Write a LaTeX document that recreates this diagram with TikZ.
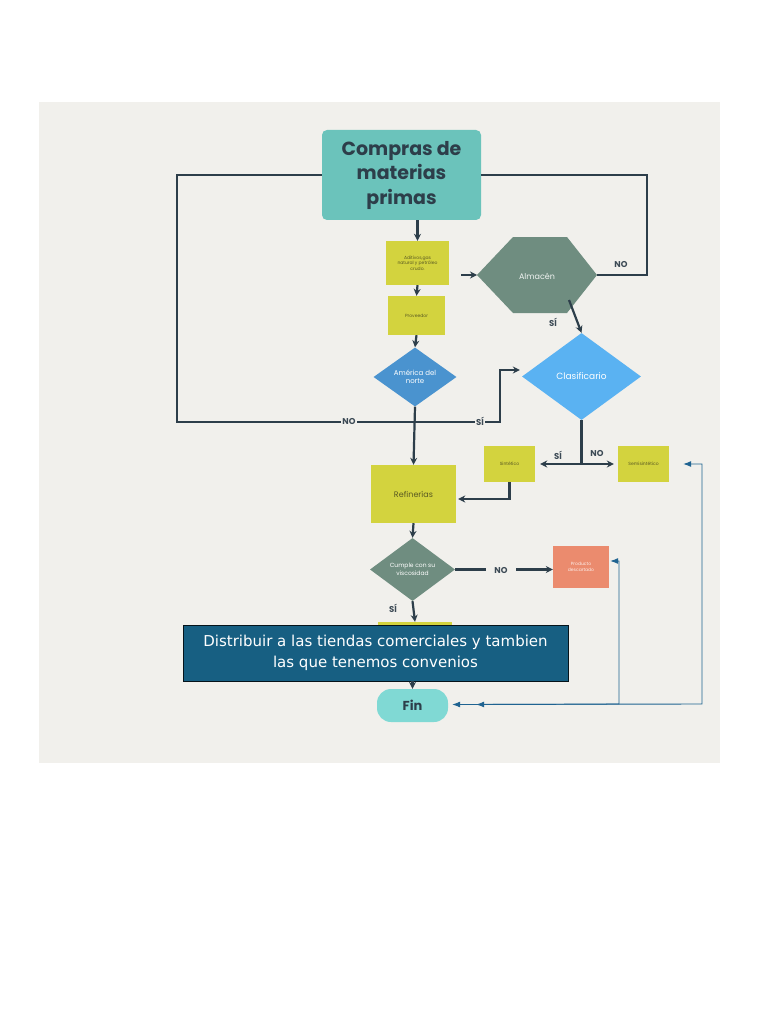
\documentclass[tikz,border=0pt]{standalone}
\usepackage{fontspec}
\setmainfont{Poppins}
\newfontfamily\dejavu{DejaVu Sans}
\usetikzlibrary{arrows.meta,calc,shapes.geometric}
\definecolor{bg}{HTML}{F1F0EC}
\definecolor{tealc}{HTML}{6BC3BB}
\definecolor{yel}{HTML}{D3D33E}
\definecolor{sage}{HTML}{6F8D80}
\definecolor{amer}{HTML}{4A93CF}
\definecolor{clas}{HTML}{5AB2F2}
\definecolor{prodc}{HTML}{EB8B6E}
\definecolor{finc}{HTML}{80D9D4}
\definecolor{darkbox}{HTML}{175F82}
\definecolor{ink}{HTML}{2D3E4A}
\definecolor{lbl}{HTML}{3C4A55}
\definecolor{bluel}{HTML}{1F6391}
\definecolor{olive}{HTML}{5A5A22}
\tikzset{
  ybox/.style={rectangle, fill=yel, inner sep=1pt, align=center, text=olive, font=\fontsize{4.5}{5.5}\selectfont},
  dia/.style={diamond, inner sep=0pt, align=center, text=white},
  ln/.style={draw=ink, line width=2.2pt},
  ar/.style={ln, -{Stealth[length=7pt,width=7pt]}},
  arb/.style={ln, {Stealth[length=7pt,width=7pt]}-{Stealth[length=7pt,width=7pt]}},
  lab/.style={text=lbl, font=\fontsize{8.5}{9}\selectfont\bfseries, inner sep=1.5pt},
  blu/.style={draw=bluel, line width=0.9pt, {Latex[length=8pt,width=6pt]}-{Latex[length=8pt,width=6pt]}}
}
\begin{document}
\begin{tikzpicture}[x=1pt,y=-1pt]
\useasboundingbox (0,0) rectangle (768,1024);
\fill[white] (0,0) rectangle (768,1024);
\fill[bg] (39,102) rectangle (720,763);

% nodes
\node[rectangle, rounded corners=5pt, fill=tealc, minimum width=159pt, minimum height=90pt, align=center,
      text=ink, font=\fontsize{19}{24.5}\selectfont\bfseries] (compras) at (401.5,175) {Compras de\\materias\\primas};
\node[ybox, minimum width=63pt, minimum height=44pt] (adit) at (417.5,263) {Aditivos,gas\\natural y petróleo\\crudo.};
\node[ybox, minimum width=57pt, minimum height=39pt] (prov) at (416.5,315.5) {Proveedor};
\node[dia, fill=amer, minimum width=83pt, minimum height=59pt, font=\fontsize{7}{8}\selectfont] (amer) at (415,377) {América del\\norte};
\fill[sage] (477,275) -- (513,237) -- (567,237) -- (597,275) -- (567,313) -- (513,313) -- cycle;
\node[text=white!90!sage, font=\fontsize{8}{9}\selectfont] (alm) at (537,276) {Almacén};
\coordinate (alm-l) at (477,275);
\coordinate (alm-r) at (597,275);
\coordinate (alm-s) at (569,300);
\node[dia, fill=clas, minimum width=119pt, minimum height=87pt, font=\fontsize{9}{10}\selectfont] (clas) at (581.5,376.5) {Clasificario};
\node[ybox, minimum width=51pt, minimum height=36pt] (sint) at (509.5,464) {Sintético};
\node[ybox, minimum width=51pt, minimum height=36pt] (semi) at (643.5,464) {Semisintético};
\node[ybox, minimum width=85pt, minimum height=58pt, font=\fontsize{8}{9}\selectfont] (ref) at (413.5,494) {Refinerías};
\node[dia, fill=sage, minimum width=85pt, minimum height=63pt, font=\fontsize{6}{7.5}\selectfont] (cumple) at (412.5,569.5) {Cumple con su\\viscosidad};
\node[rectangle, fill=prodc, minimum width=56pt, minimum height=42pt, align=center, text=white!85!prodc,
      font=\fontsize{4.5}{6}\selectfont] (prod) at (581,567) {Producto\\descartado};
\node[rectangle, fill=yel, minimum width=74pt, minimum height=40pt] (hid) at (415,642) {};
\node[rectangle, fill=darkbox, draw=black!80!darkbox, line width=0.8pt, minimum width=385pt, minimum height=56pt,
      align=center, text=white, font=\dejavu\fontsize{15}{21.5}\selectfont] (dist) at (375.5,653)
      {Distribuir a las tiendas comerciales y tambien\\las que tenemos convenios};
\node[rectangle, rounded corners=14pt, fill=finc, minimum width=71pt, minimum height=33pt, text=ink,
      font=\fontsize{13}{14}\selectfont\bfseries] (fin) at (412.5,705.5) {Fin};

% dark connectors
\draw[ar] (compras.west) -- (177,175) -- (177,422) -- (500,422) -- (500,370) -- ($(clas.west)+(-2,-6.5)$);
\node[lab, fill=bg] (no1) at (349,422) {NO};
\node[lab, fill=bg] (si1) at (480,421) {SÍ};
\draw[ln] (compras.east) -- (647,175) -- (647,275) -- (alm-r);
\node[lab] (no2) at (621,265) {NO};
\draw[ar] (compras.south -| adit.north) -- (adit.north);
\draw[ar] ($(adit.east)+(12,12)$) -- (alm-l);
\draw[ar] (adit.south) -- (prov.north);
\draw[ar] (prov.south) -- (amer.north);
\draw[ar] (amer.south) -- (ref.north);
\draw[ar] (alm-s) -- (clas.north);
\node[lab] (si2) at (553,322) {SÍ};
\draw[ln] (clas.south) -- (clas.south |- sint.east);
\draw[arb] ($(sint.east)+(5,0)$) -- ($(semi.west)+(-4,0)$);
\node[lab] (si3) at (558,455) {SÍ};
\node[lab] (no3) at (597,453) {NO};
\draw[ar] (sint.south) |- ($(ref.east)+(2,5)$);
\draw[ar] (ref.south) -- (cumple.north);
\draw[ar] (cumple.east) -- (cumple.east -| prod.west);
\node[lab, fill=bg, inner xsep=8pt] (no4) at (501,570) {NO};
\draw[ar] (cumple.south) -- (hid.north);
\node[lab] (si4) at (393,608) {SÍ};
\draw[ar] (dist.south -| fin.north) -- (fin.north);

% blue connectors
\coordinate (b1) at (702,704);
\coordinate (b2) at (619,704);
\draw[blu] ($(fin.east)+(4,-1)$) -- (b1) |- ($(semi.east)+(14,0)$);
\draw[blu] ($(fin.east)+(28,-1)$) -- (b2) |- ($(prod.east)+(1,-6)$);
\end{tikzpicture}
\end{document}
